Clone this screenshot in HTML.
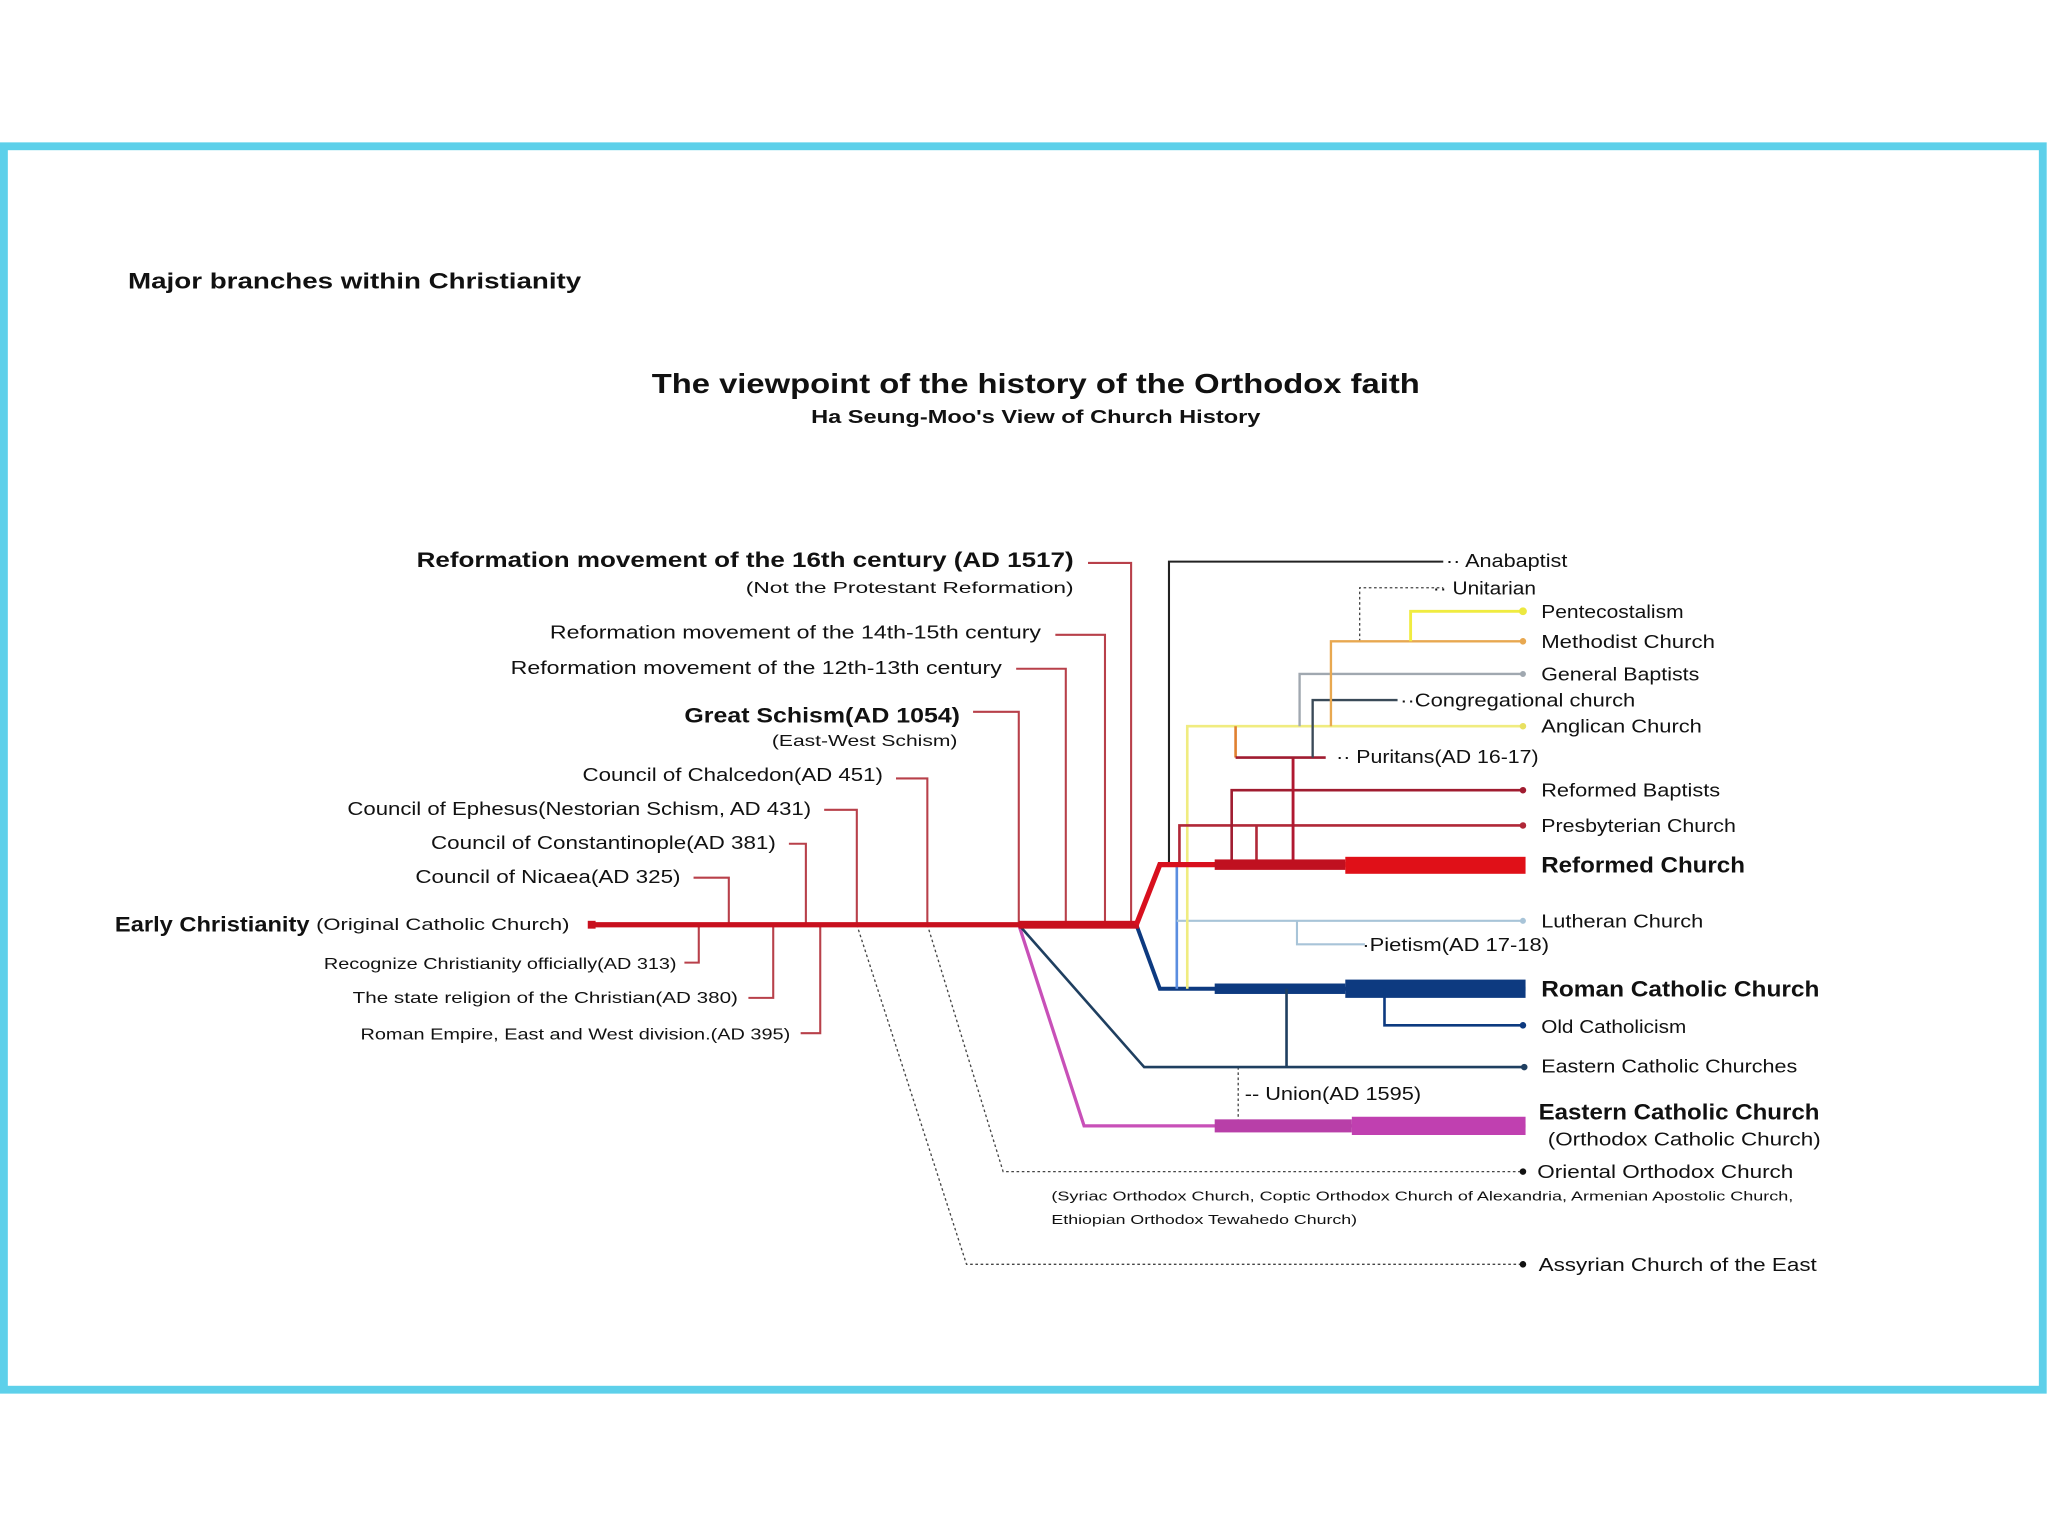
<!DOCTYPE html>
<html><head><meta charset="utf-8"><style>
html,body{margin:0;padding:0;background:#fff;}
svg{display:block;}
text{font-family:"Liberation Sans","Noto Sans CJK KR",sans-serif;fill:#111;}
</style></head><body>
<svg width="2048" height="1536" viewBox="0 0 1568 1176" xmlns="http://www.w3.org/2000/svg">
<rect x="0" y="0" width="1568" height="1176" fill="#fff"/>
<rect x="3" y="112" width="1561" height="952" fill="none" stroke="#5dd0ea" stroke-width="6"/>
<g lengthAdjust="spacingAndGlyphs">
<text x="98" y="221" font-size="17" font-weight="bold" textLength="347" lengthAdjust="spacingAndGlyphs">Major branches within Christianity</text>
<text x="499" y="301" font-size="21" font-weight="bold" textLength="588" lengthAdjust="spacingAndGlyphs">The viewpoint of the history of the Orthodox faith</text>
<text x="621" y="324" font-size="14" font-weight="bold" textLength="344" lengthAdjust="spacingAndGlyphs">Ha Seung-Moo's View of Church History</text>
</g>
<!-- left connectors -->
<g fill="none" stroke="#b8404a" stroke-width="1.6">
<polyline points="833,431 866,431 866,708"/>
<polyline points="808,486 846,486 846,708"/>
<polyline points="778,512 816,512 816,708"/>
<polyline points="745,545 780,545 780,708"/>
<polyline points="686,596 710,596 710,708"/>
<polyline points="631,620 656,620 656,708"/>
<polyline points="604,646 617,646 617,708"/>
<polyline points="531,672 558,672 558,708"/>
<polyline points="524,737 535,737 535,708"/>
<polyline points="573,764 592,764 592,708"/>
<polyline points="613,791 628,791 628,708"/>
</g>
<!-- dotted -->
<g fill="none" stroke="#444" stroke-width="1" stroke-dasharray="2,2">
<polyline points="656,708 740,968 1165,968"/>
<polyline points="710,708 768,897 1165,897"/>
<polyline points="1041,491 1041,450 1105,450"/>
<line x1="948" y1="817" x2="948" y2="862"/>
</g>
<circle cx="1166" cy="968" r="2.5" fill="#111"/>
<circle cx="1166" cy="897" r="2.5" fill="#111"/>
<!-- pink -->
<polyline points="780,708 830,862 1168,862" fill="none" stroke="#c850b8" stroke-width="2.5"/>
<rect x="930" y="857" width="105" height="10" fill="#b83fa8"/>
<polygon points="1035,855 1168,855 1168,869 1035,869" fill="#c040b0"/>
<!-- eastern catholic churches -->
<polyline points="780,708 876,817 1168,817" fill="none" stroke="#1f3f60" stroke-width="2"/>
<circle cx="1167" cy="817" r="2.5" fill="#1f3f60"/>
<!-- roman -->
<polyline points="870,708 888,757 1168,757" fill="none" stroke="#0d3a80" stroke-width="3"/>
<rect x="930" y="753" width="100" height="8" fill="#0d3a80"/>
<rect x="1030" y="750" width="138" height="14" fill="#0d3a80"/>
<line x1="985" y1="757" x2="985" y2="817" stroke="#1f3f60" stroke-width="2"/>
<polyline points="1060,757 1060,785 1166,785" fill="none" stroke="#0d3a80" stroke-width="2"/>
<circle cx="1166" cy="785" r="2.5" fill="#0d3a80"/>
<!-- main red line -->
<line x1="453" y1="708" x2="870" y2="708" stroke="#c8101e" stroke-width="4"/>
<rect x="780" y="705" width="92" height="6" fill="#c8101e"/>
<rect x="450" y="705" width="6" height="6" fill="#c8101e"/>
<!-- upper tree -->
<polyline points="895,662 895,430 1105,430" fill="none" stroke="#222" stroke-width="1.6"/>
<line x1="901" y1="662" x2="901" y2="757" stroke="#5b8ee0" stroke-width="2"/>
<polyline points="901,705 1166,705" fill="none" stroke="#a8c4d8" stroke-width="1.6"/>
<polyline points="993,705 993,723 1045,723" fill="none" stroke="#a8c4d8" stroke-width="1.6"/>
<circle cx="1166" cy="705" r="2.3" fill="#a8c4d8"/>
<polyline points="909,757 909,556 1166,556" fill="none" stroke="#f0ec80" stroke-width="2"/>
<circle cx="1166" cy="556" r="2.5" fill="#e8e060"/>
<polyline points="903,662 903,632 1166,632" fill="none" stroke="#b02838" stroke-width="2"/>
<circle cx="1166" cy="632" r="2.5" fill="#b02838"/>
<polyline points="943,662 943,605 1166,605" fill="none" stroke="#a01c30" stroke-width="2"/>
<circle cx="1166" cy="605" r="2.5" fill="#a01c30"/>
<line x1="962" y1="632" x2="962" y2="662" stroke="#b02838" stroke-width="2"/>
<line x1="990" y1="662" x2="990" y2="580" stroke="#b01830" stroke-width="2.2"/>
<line x1="946" y1="556" x2="946" y2="580" stroke="#e08030" stroke-width="2"/>
<line x1="946" y1="580" x2="1015" y2="580" stroke="#a01c30" stroke-width="2"/>
<polyline points="1005,580 1005,536 1070,536" fill="none" stroke="#3a4a58" stroke-width="1.8"/>
<polyline points="995,556 995,516 1166,516" fill="none" stroke="#a0a8b0" stroke-width="1.8"/>
<circle cx="1166" cy="516" r="2.3" fill="#a0a8b0"/>
<polyline points="1019,556 1019,491 1166,491" fill="none" stroke="#e8a850" stroke-width="1.8"/>
<circle cx="1166" cy="491" r="2.5" fill="#e8a850"/>
<polyline points="1080,491 1080,468 1166,468" fill="none" stroke="#f0ec40" stroke-width="2.2"/>
<circle cx="1166" cy="468" r="3" fill="#ece840"/>
<!-- reformed -->
<polyline points="870,708 888,662 1030,662" fill="none" stroke="#d8101e" stroke-width="4"/>
<rect x="930" y="658" width="100" height="8" fill="#c01020"/>
<rect x="1030" y="656" width="138" height="13" fill="#e01018"/>
<!-- left labels -->
<g font-size="14">
<text x="319" y="434" font-size="16" font-weight="bold" textLength="503" lengthAdjust="spacingAndGlyphs">Reformation movement of the 16th century (AD 1517)</text>
<text x="571" y="454" font-size="12" textLength="251" lengthAdjust="spacingAndGlyphs">(Not the Protestant Reformation)</text>
<text x="421" y="489" textLength="376" lengthAdjust="spacingAndGlyphs">Reformation movement of the 14th-15th century</text>
<text x="391" y="516" textLength="376" lengthAdjust="spacingAndGlyphs">Reformation movement of the 12th-13th century</text>
<text x="524" y="553" font-size="16" font-weight="bold" textLength="211" lengthAdjust="spacingAndGlyphs">Great Schism(AD 1054)</text>
<text x="591" y="571" font-size="12" textLength="142" lengthAdjust="spacingAndGlyphs">(East-West Schism)</text>
<text x="446" y="598" textLength="230" lengthAdjust="spacingAndGlyphs">Council of Chalcedon(AD 451)</text>
<text x="266" y="624" textLength="355" lengthAdjust="spacingAndGlyphs">Council of Ephesus(Nestorian Schism, AD 431)</text>
<text x="330" y="650" textLength="264" lengthAdjust="spacingAndGlyphs">Council of Constantinople(AD 381)</text>
<text x="318" y="676" textLength="203" lengthAdjust="spacingAndGlyphs">Council of Nicaea(AD 325)</text>
<text x="88" y="713" font-size="16" font-weight="bold" textLength="149" lengthAdjust="spacingAndGlyphs">Early Christianity</text>
<text x="242" y="712" font-size="13" textLength="194" lengthAdjust="spacingAndGlyphs">(Original Catholic Church)</text>
<text x="248" y="742" font-size="12" textLength="270" lengthAdjust="spacingAndGlyphs">Recognize Christianity officially(AD 313)</text>
<text x="270" y="768" font-size="12" textLength="295" lengthAdjust="spacingAndGlyphs">The state religion of the Christian(AD 380)</text>
<text x="276" y="796" font-size="12" textLength="329" lengthAdjust="spacingAndGlyphs">Roman Empire, East and West division.(AD 395)</text>
</g>
<!-- right labels -->
<g font-size="14">
<text x="1107" y="434" textLength="93" lengthAdjust="spacingAndGlyphs">·· Anabaptist</text>
<text x="1097" y="455" textLength="79" lengthAdjust="spacingAndGlyphs">·· Unitarian</text>
<text x="1180" y="473" textLength="109" lengthAdjust="spacingAndGlyphs">Pentecostalism</text>
<text x="1180" y="496" textLength="133" lengthAdjust="spacingAndGlyphs">Methodist Church</text>
<text x="1180" y="521" textLength="121" lengthAdjust="spacingAndGlyphs">General Baptists</text>
<text x="1072" y="541" textLength="180" lengthAdjust="spacingAndGlyphs">··Congregational church</text>
<text x="1180" y="561" textLength="123" lengthAdjust="spacingAndGlyphs">Anglican Church</text>
<text x="1023" y="584" textLength="155" lengthAdjust="spacingAndGlyphs">·· Puritans(AD 16-17)</text>
<text x="1180" y="610" textLength="137" lengthAdjust="spacingAndGlyphs">Reformed Baptists</text>
<text x="1180" y="637" textLength="149" lengthAdjust="spacingAndGlyphs">Presbyterian Church</text>
<text x="1180" y="668" font-size="17" font-weight="bold" textLength="156" lengthAdjust="spacingAndGlyphs">Reformed Church</text>
<text x="1180" y="710" textLength="124" lengthAdjust="spacingAndGlyphs">Lutheran Church</text>
<text x="1043" y="728" textLength="143" lengthAdjust="spacingAndGlyphs">·Pietism(AD 17-18)</text>
<text x="1180" y="763" font-size="17" font-weight="bold" textLength="213" lengthAdjust="spacingAndGlyphs">Roman Catholic Church</text>
<text x="1180" y="791" textLength="111" lengthAdjust="spacingAndGlyphs">Old Catholicism</text>
<text x="1180" y="821" textLength="196" lengthAdjust="spacingAndGlyphs">Eastern Catholic Churches</text>
<text x="953" y="842" textLength="135" lengthAdjust="spacingAndGlyphs">-- Union(AD 1595)</text>
<text x="1178" y="857" font-size="17" font-weight="bold" textLength="215" lengthAdjust="spacingAndGlyphs">Eastern Catholic Church</text>
<text x="1185" y="877" textLength="209" lengthAdjust="spacingAndGlyphs">(Orthodox Catholic Church)</text>
<text x="1177" y="902" textLength="196" lengthAdjust="spacingAndGlyphs">Oriental Orthodox Church</text>
<text x="805" y="919" font-size="10" textLength="568" lengthAdjust="spacingAndGlyphs">(Syriac Orthodox Church, Coptic Orthodox Church of Alexandria, Armenian Apostolic Church,</text>
<text x="805" y="937" font-size="10" textLength="234" lengthAdjust="spacingAndGlyphs">Ethiopian Orthodox Tewahedo Church)</text>
<text x="1178" y="973" textLength="213" lengthAdjust="spacingAndGlyphs">Assyrian Church of the East</text>
</g>
</svg>
</body></html>
